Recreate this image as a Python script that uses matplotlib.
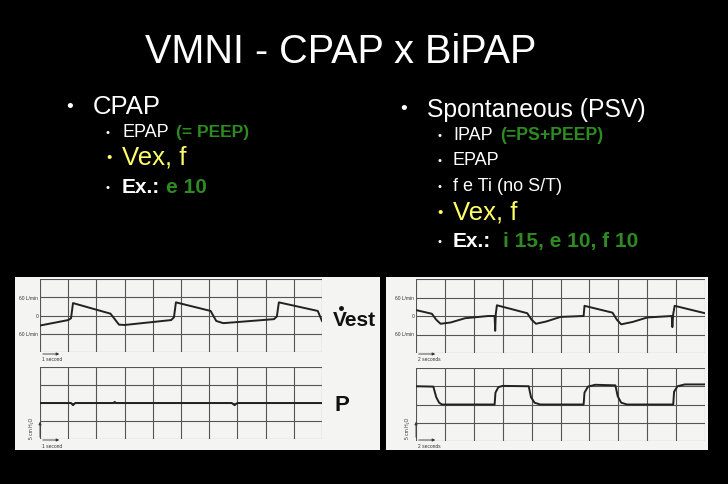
import matplotlib
matplotlib.use("Agg")
import matplotlib.pyplot as plt
import numpy as np

plt.rcParams["font.family"] = ["Liberation Sans", "DejaVu Sans"]

W, H = 728, 485

# CPAP flow (grid units: 10 cols, rows -2..2)
cpap_flow_t = [0, 1.0, 1.1, 1.17, 2.5, 2.65, 2.8, 3.0, 4.65, 4.75, 4.82, 6.05, 6.25, 6.5, 8.3, 8.4, 8.47, 9.85, 10]
cpap_flow_v = [-0.55, -0.25, -0.15, 0.68, 0.1, -0.2, -0.5, -0.52, -0.25, -0.1, 0.72, 0.25, -0.3, -0.42, -0.2, -0.05, 0.72, 0.25, -0.3]
# CPAP pressure
cpap_p_t = [0, 1.1, 1.17, 1.25, 2.6, 2.65, 2.7, 6.8, 6.9, 7.0, 10]
cpap_p_v = [0, 0, -0.12, 0, 0, 0.06, 0, 0, -0.12, 0, 0]
# PSV flow
psv_flow_t = [0, 0.55, 0.7, 0.85, 1.2, 1.7, 2.5, 2.72, 2.74, 2.76, 2.8, 3.85, 4.0, 4.15, 4.5, 5.0, 5.8, 5.83, 6.8, 6.95, 7.1, 7.5, 8.0, 8.85, 8.87, 8.9, 8.95, 10]
psv_flow_v = [0.32, 0.12, -0.2, -0.42, -0.35, -0.12, 0.0, 0.0, -0.8, 0.1, 0.58, 0.15, -0.2, -0.42, -0.3, -0.05, 0.0, 0.55, 0.18, -0.2, -0.45, -0.32, -0.08, 0.0, -0.6, 0.1, 0.55, 0.15]
# PSV pressure (rows 0..4)
psv_p_t = [0, 0.6, 0.7, 0.8, 0.9, 2.72, 2.75, 2.85, 3.0, 3.9, 3.98, 4.1, 4.3, 5.8, 5.83, 5.95, 6.2, 6.9, 6.98, 7.1, 7.3, 8.9, 8.93, 9.05, 9.3, 10]
psv_p_v = [3.0, 2.98, 2.4, 2.1, 2.0, 2.0, 2.65, 2.95, 3.02, 3.0, 2.4, 2.1, 2.0, 2.0, 2.65, 2.98, 3.08, 3.05, 2.45, 2.1, 2.0, 2.0, 2.7, 3.0, 3.1, 3.1]

GREEN = "#2e8b22"
YELLOW = "#ffff66"

fig = plt.figure(figsize=(W / 100, H / 100), dpi=100, facecolor="black")
bg = fig.add_axes([0, 0, 1, 1])
bg.set_xlim(0, W); bg.set_ylim(H, 0); bg.axis("off")

def box(x0, y0, x1, y1, color="white"):
    a = fig.add_axes([x0 / W, 1 - y1 / H, (x1 - x0) / W, (y1 - y0) / H])
    a.set_facecolor(color)
    a.set_xticks([]); a.set_yticks([])
    for s in a.spines.values():
        s.set_visible(False)
    return a

def grid_ax(x0, y0, x1, y1, ylo, yhi):
    a = box(x0, y0, x1, y1, "none")
    a.set_xlim(0, 10); a.set_ylim(ylo, yhi)
    for gx in range(11):
        a.axvline(gx, color="#555555", lw=0.8)
    for gy in np.linspace(ylo, yhi, 5):
        a.axhline(gy, color="#555555", lw=0.8)
    return a

kw = dict(color="#222222", lw=1.4)

def t(x, y, s, size, color="white", bold=False):
    bg.text(x, y, s, color=color, fontsize=size, va="center",
            fontweight="bold" if bold else "normal")

# --- text ---
t(145, 52, "VMNI - CPAP x BiPAP", 28.5)
t(66, 107, "•", 14)
t(93, 107, "CPAP", 18.5)
t(106, 133, "•", 8)
t(122, 133, "EPAP", 13)
t(176, 133, "(= PEEP)", 12.5, GREEN, True)
t(106, 158, "•", 11, YELLOW)
t(122, 158, "Vex, f", 18.5, YELLOW)
t(106, 188, "•", 8)
t(122, 188, "Ex.:", 15, bold=True)
t(166, 188, "e 10", 15, GREEN, True)

t(400, 110, "•", 14)
t(427, 110, "Spontaneous (PSV)", 17.8)
t(437, 136, "•", 8)
t(453, 136, "IPAP", 13)
t(500, 136, "(=PS+PEEP)", 12.7, GREEN, True)
t(437, 161, "•", 8)
t(453, 161, "EPAP", 13)
t(437, 187, "•", 8)
t(453, 187, "f e Ti (no S/T)", 13)
t(437, 213, "•", 11, YELLOW)
t(453, 213, "Vex, f", 18.5, YELLOW)
t(437, 242, "•", 8)
t(453, 242, "Ex.:", 15, bold=True)
t(503, 242, "i 15, e 10, f 10", 15, GREEN, True)

# --- left image (CPAP) ---
box(15, 278, 380, 451, "#f4f4f2")
a1 = grid_ax(40, 280, 322, 353, -2, 2)
a1.plot(cpap_flow_t, cpap_flow_v, **kw)
a2 = grid_ax(40, 368, 322, 440, -2, 2)
a2.plot(cpap_p_t, cpap_p_v, **kw)

# --- right image (PSV) ---
box(386, 278, 708, 451, "#f4f4f2")
b1 = grid_ax(416, 280, 705, 354, -2, 2)
b1.plot(psv_flow_t, psv_flow_v, **kw)
b2 = grid_ax(416, 369, 705, 442, 0, 4)
b2.plot(psv_p_t, psv_p_v, **kw)

# overlay for labels on the images
top = fig.add_axes([0, 0, 1, 1], facecolor="none")
top.set_xlim(0, W); top.set_ylim(H, 0); top.axis("off")
top.text(333, 321, "Vest", fontsize=15, fontweight="bold", color="#111111", va="center")
top.plot([340.5], [308.5], "o", color="#111111", ms=2.5)
top.text(334, 406, "P", fontsize=16, fontweight="bold", color="#111111", va="center")
sm = dict(fontsize=3.5, va="center", color="#333")
arr = dict(arrowstyle="-|>", color="#333", lw=0.6, mutation_scale=4)
for x0, unit in ((40, "1 second"), (416, "2 seconds")):
    top.text(x0 - 2, 299, "60 L/min", ha="right", **sm)
    top.text(x0 - 2, 317, "0", ha="right", **sm)
    top.text(x0 - 2, 335, "60 L/min", ha="right", **sm)
    top.text(x0 + 2, 360, unit, **sm)
    top.text(x0 + 2, 447, unit, **sm)
    top.text(x0 - 8, 428, "5 cm H\u2082O", rotation=90, ha="center", **sm)
    top.annotate("", xy=(x0 + 22, 355), xytext=(x0, 355), arrowprops=arr)
    top.annotate("", xy=(x0 + 22, 441), xytext=(x0, 441), arrowprops=arr)
    top.annotate("", xy=(x0, 420), xytext=(x0, 441), arrowprops=arr)

fig.savefig("out.png", dpi=100, facecolor="black")
